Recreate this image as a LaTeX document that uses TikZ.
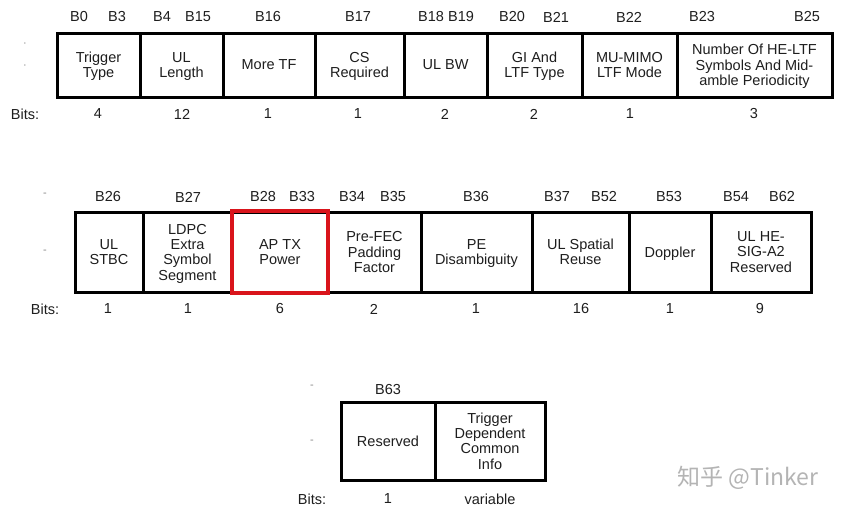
\documentclass[tikz,border=0pt]{standalone}
\usepackage{fontspec}
\setmainfont{Liberation Sans}
\newfontfamily\cjkfont{Noto Sans CJK SC}
\usepackage{xcolor}
\usepackage{tikz}
\definecolor{FieldRed}{HTML}{D9141B}
\definecolor{TextDark}{HTML}{1E1E1E}
\definecolor{MarkGray}{HTML}{8A8A8A}
\definecolor{WaterGray}{HTML}{B4B4B4}

\begin{document}
\begin{tikzpicture}[
    x=1pt, y=-1pt,
    field/.style={draw=black, line width=3pt, inner sep=0pt, align=center, text depth=-4pt, text=TextDark, font=\fontsize{14.5}{15.3}\selectfont},
    redfield/.style={draw=FieldRed, line width=3.5pt, inner sep=0pt, minimum width=96pt, minimum height=82pt},
    bitno/.style={text=TextDark, inner sep=0pt, yshift=-2pt, font=\fontsize{14.5}{15.3}\selectfont},
    bitcount/.style={text=TextDark, inner sep=0pt, yshift=-1pt, font=\fontsize{14.5}{15.3}\selectfont},
    marker/.style={text=MarkGray, inner sep=0pt, font=\fontsize{11}{12}\selectfont},
    watermark/.style={text=WaterGray, inner sep=0pt, font=\cjkfont\fontsize{23}{25}\selectfont}
]
\useasboundingbox[fill=white] (0,0) rectangle (848,512);

% Row 1: B0 -- B25
\node[marker] (m1) at (25,45) {·};
\node[marker] (m2) at (25,67) {·};
\node[bitno] (B0) at (79,15) {B0};
\node[bitno] (B3) at (117,15) {B3};
\node[bitno] (B4) at (162,15) {B4};
\node[bitno] (B15) at (198,15) {B15};
\node[bitno] (B16) at (268,15) {B16};
\node[bitno] (B17) at (358,15) {B17};
\node[bitno] (B18) at (431,15) {B18};
\node[bitno] (B19) at (461,15) {B19};
\node[bitno] (B20) at (512,15) {B20};
\node[bitno] (B21) at (556,15) {B21};
\node[bitno] (B22) at (629,15) {B22};
\node[bitno] (B23) at (702,15) {B23};
\node[bitno] (B25) at (807,15) {B25};

\node[field, minimum width=83pt, minimum height=64pt] (F1) at (98.5,65) {Trigger\\Type};
\node[field, minimum width=83pt, minimum height=64pt] (F2) at (181.5,65) {UL\\Length};
\node[field, minimum width=92pt, minimum height=64pt] (F3) at (269,65) {More TF};
\node[field, minimum width=89pt, minimum height=64pt] (F4) at (359.5,65) {CS\\Required};
\node[field, minimum width=83pt, minimum height=64pt] (F5) at (445.5,65) {UL BW};
\node[field, minimum width=95pt, minimum height=64pt] (F6) at (534.5,65) {GI And\\LTF Type};
\node[field, minimum width=95pt, minimum height=64pt] (F7) at (629.5,65) {MU-MIMO\\LTF Mode};
\node[field, minimum width=155pt, minimum height=64pt] (F8) at (754.5,65) {Number Of HE-LTF\\Symbols And Mid-\\amble Periodicity};

\node[bitcount] (bits1) at (25,113) {Bits:};
\node[bitcount] (N1) at (98,113) {4};
\node[bitcount] (N2) at (182,113) {12};
\node[bitcount] (N3) at (268,113) {1};
\node[bitcount] (N4) at (358,113) {1};
\node[bitcount] (N5) at (445,113) {2};
\node[bitcount] (N6) at (534,113) {2};
\node[bitcount] (N7) at (630,113) {1};
\node[bitcount] (N8) at (754,113) {3};

% Row 2: B26 -- B62
\node[marker] (m3) at (45,195) {-};
\node[marker] (m4) at (45,252) {-};
\node[bitno] (B26) at (108,195) {B26};
\node[bitno] (B27) at (188,195) {B27};
\node[bitno] (B28) at (263,195) {B28};
\node[bitno] (B33) at (302,195) {B33};
\node[bitno] (B34) at (352,195) {B34};
\node[bitno] (B35) at (393,195) {B35};
\node[bitno] (B36) at (476,195) {B36};
\node[bitno] (B37) at (557,195) {B37};
\node[bitno] (B52) at (604,195) {B52};
\node[bitno] (B53) at (669,195) {B53};
\node[bitno] (B54) at (736,195) {B54};
\node[bitno] (B62) at (782,195) {B62};

\node[field, minimum width=68pt, minimum height=80pt] (F9) at (109,252) {UL\\STBC};
\node[field, minimum width=89pt, minimum height=80pt] (F10) at (187.5,252) {LDPC\\Extra\\Symbol\\Segment};
\node[field, minimum width=96pt, minimum height=80pt] (F11) at (280,252) {AP TX\\Power};
\node[field, minimum width=93pt, minimum height=80pt] (F12) at (374.5,252) {Pre-FEC\\Padding\\Factor};
\node[field, minimum width=111pt, minimum height=80pt] (F13) at (476.5,252) {PE\\Disambiguity};
\node[field, minimum width=97pt, minimum height=80pt] (F14) at (580.5,252) {UL Spatial\\Reuse};
\node[field, minimum width=82pt, minimum height=80pt] (F15) at (670,252) {Doppler};
\node[field, minimum width=100pt, minimum height=80pt] (F16) at (761,252) {UL HE-\\SIG-A2\\Reserved};
\node[redfield] (hl) at (F11.center) {};

\node[bitcount] (bits2) at (45,308) {Bits:};
\node[bitcount] (N9) at (108,308) {1};
\node[bitcount] (N10) at (188,308) {1};
\node[bitcount] (N11) at (280,308) {6};
\node[bitcount] (N12) at (374,308) {2};
\node[bitcount] (N13) at (476,308) {1};
\node[bitcount] (N14) at (581,308) {16};
\node[bitcount] (N15) at (670,308) {1};
\node[bitcount] (N16) at (760,308) {9};

% Row 3: B63 and common info
\node[marker] (m5) at (312,387) {-};
\node[marker] (m6) at (312,442) {-};
\node[bitno] (B63) at (388,387) {B63};

\node[field, minimum width=94pt, minimum height=78pt] (F17) at (388,441) {Reserved};
\node[field, minimum width=110pt, minimum height=78pt] (F18) at (490,441) {Trigger\\Dependent\\Common\\Info};

\node[bitcount] (bits3) at (312,498) {Bits:};
\node[bitcount] (N17) at (388,498) {1};
\node[bitcount] (N18) at (490,498) {variable};

\node[watermark] (wm) at (748,478) {知乎 @Tinker};

\end{tikzpicture}
\end{document}
